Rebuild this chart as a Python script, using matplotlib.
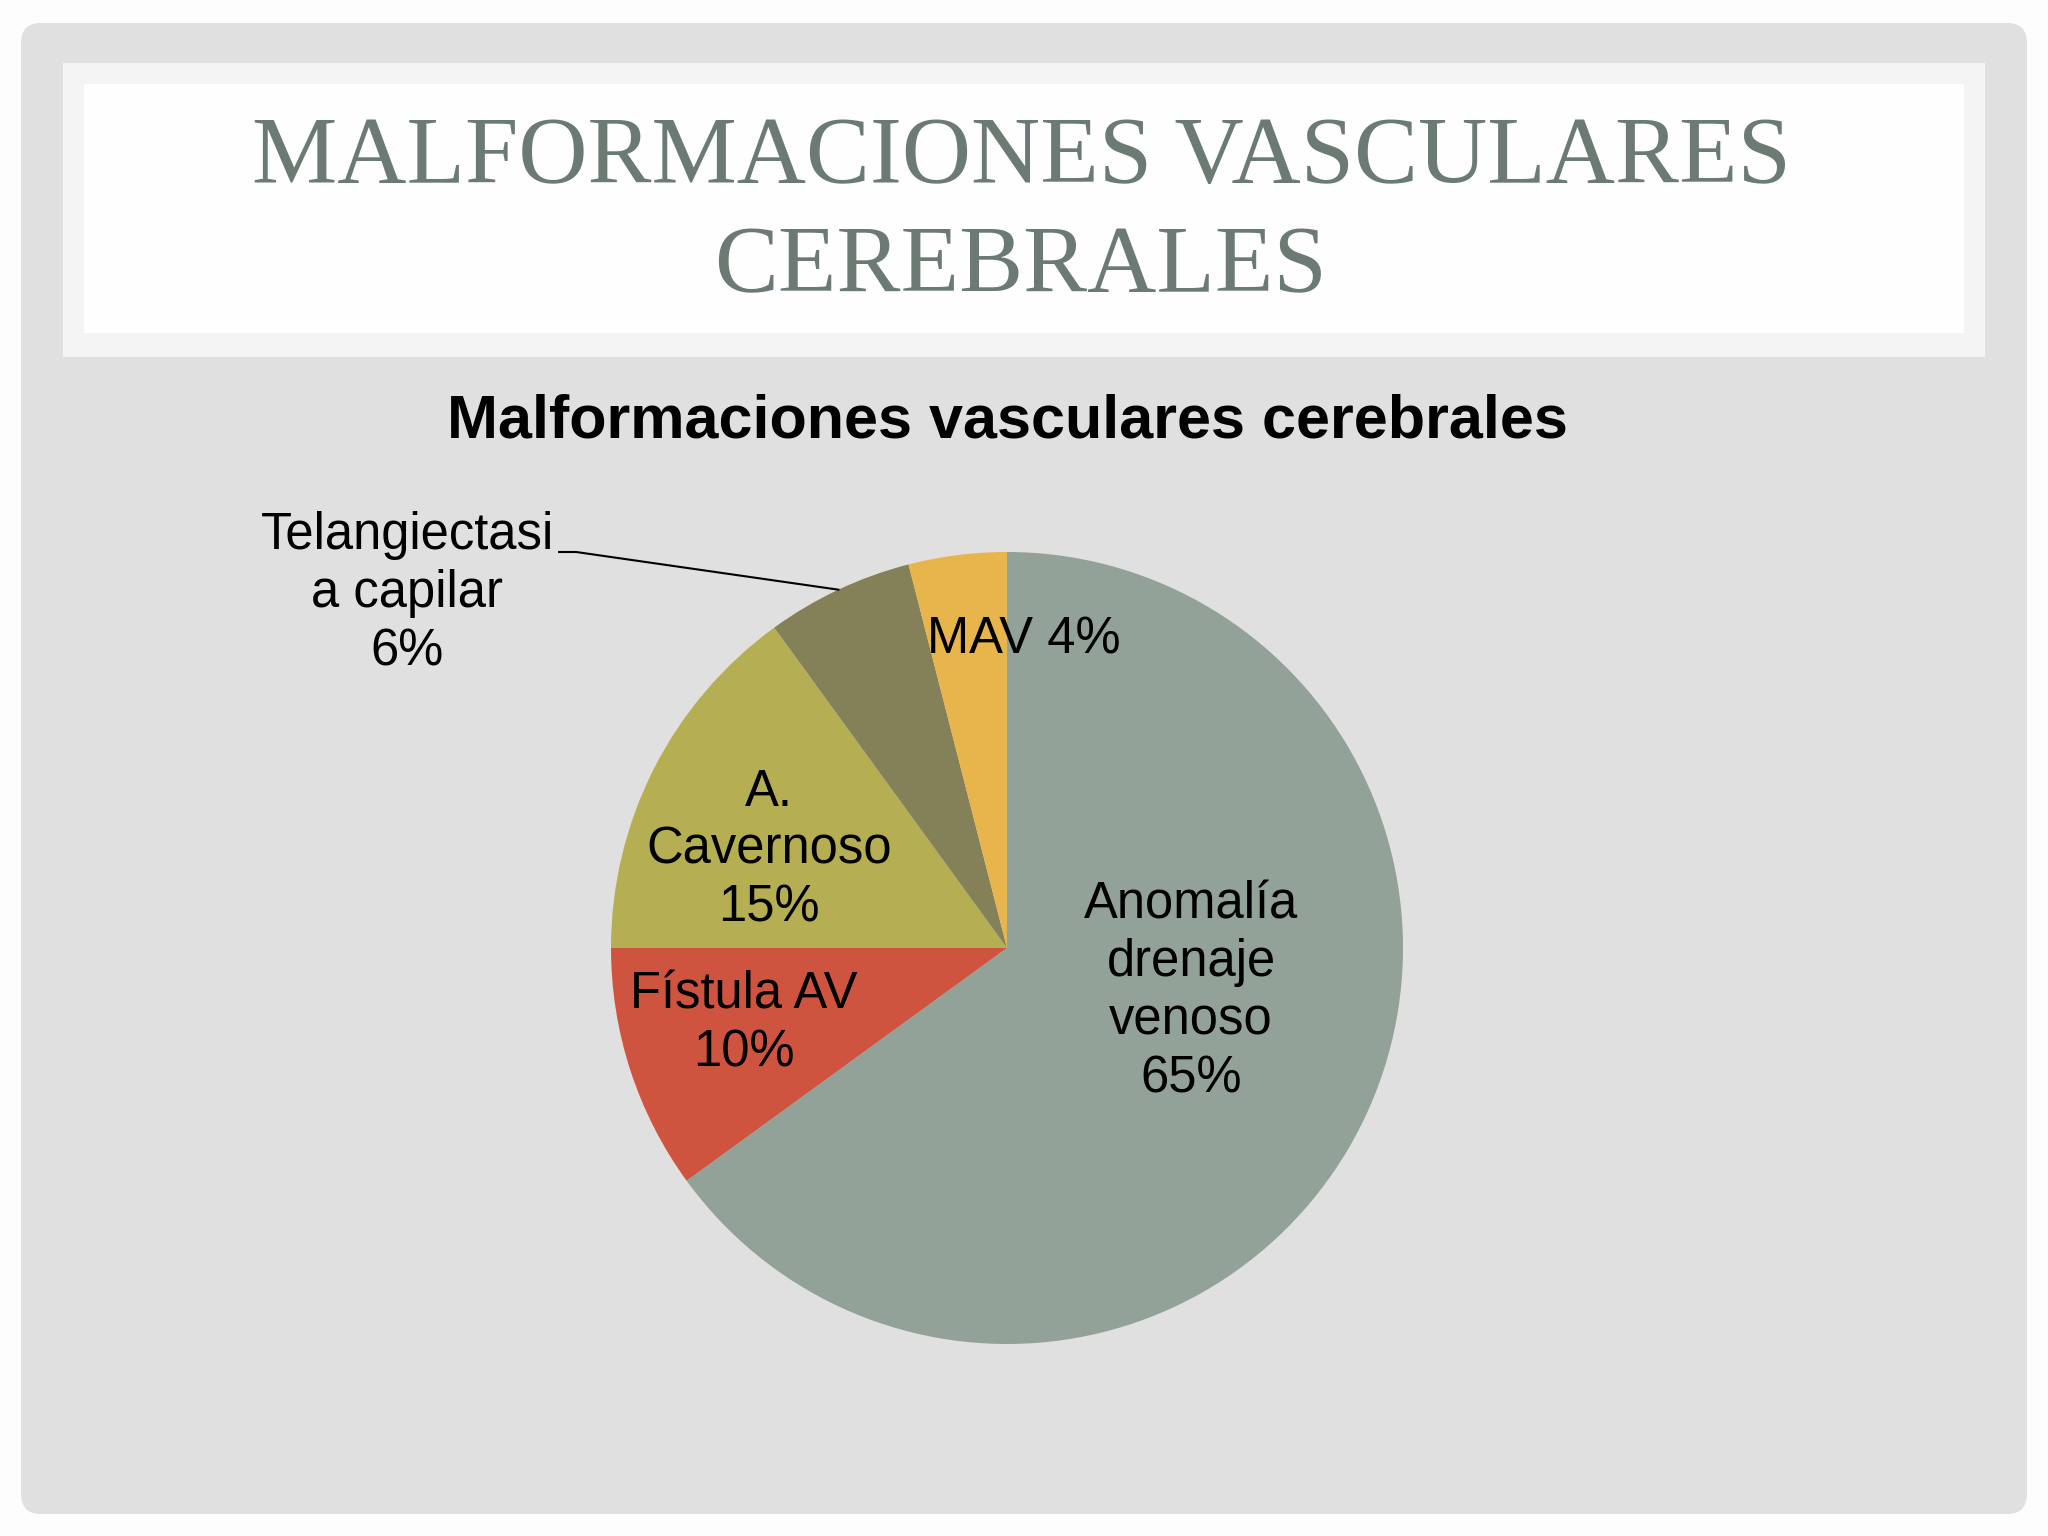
import numpy as np
import matplotlib
matplotlib.use('Agg')
import matplotlib.pyplot as plt
from matplotlib.patches import FancyBboxPatch, Rectangle

# Daten
categories = ['Anomalía drenaje venoso', 'Fístula AV', 'A. Cavernoso',
              'Telangiectasia capilar', 'MAV']
label_texts = ['Anomalía\ndrenaje\nvenoso', 'Fístula AV', 'A.\nCavernoso',
               'Telangiectasi\na capilar', 'MAV']
values = [65, 10, 15, 6, 4]
colors = ['#93A299', '#CF543F', '#B5AE53', '#848058', '#E8B54D']

slide_title = ['MALFORMACIONES VASCULARES', 'CEREBRALES']
chart_title = 'Malformaciones vasculares cerebrales'

W, H = 2048, 1536
fig = plt.figure(figsize=(W / 100, H / 100), dpi=100)
fig.patch.set_facecolor('#FDFDFD')

# Hintergrund in Pixelkoordinaten
bg = fig.add_axes([0, 0, 1, 1])
bg.set_xlim(0, W)
bg.set_ylim(H, 0)
bg.axis('off')
bg.add_patch(FancyBboxPatch((21 + 20, 23 + 20), 2006 - 40, 1491 - 40,
                            boxstyle='round,pad=20', fc='#E1E0E1', ec='none'))
bg.add_patch(Rectangle((63, 63), 1922, 294, fc='#F4F4F4', ec='none'))
bg.add_patch(Rectangle((84, 84), 1880, 249, fc='#FEFEFE', ec='none'))
for line, yb in zip(slide_title, [183, 292]):
    bg.text(1021, yb, line, ha='center', va='baseline',
            family='Liberation Serif', fontsize=69, color='#6B7B73')
bg.text(1007, 422, chart_title, ha='center', va='center',
        family='Liberation Sans', fontsize=44, fontweight='bold', color='black')

# Kreisdiagramm
cx, cy, r = 1007, 948, 396
ax = fig.add_axes([(cx - r) / W, (H - cy - r) / H, 2 * r / W, 2 * r / H])
wedges, _ = ax.pie(values, colors=colors, startangle=90, counterclock=False,
                   radius=1, wedgeprops=dict(linewidth=0))
ax.set_xlim(-1, 1)
ax.set_ylim(-1, 1)
ax.axis('off')

# Beschriftungen (Position in Datenkoordinaten, wie im Original verschoben)
label_pos = [(0.465, -0.111), (-0.664, -0.192), (-0.601, 0.247),
             (-1.515, 0.894), (0.043, 0.778)]
for i, (txt, v) in enumerate(zip(label_texts, values)):
    sep = ' ' if i == 4 else '\n'
    ax.text(*label_pos[i], f'{txt}{sep}{v}%', ha='center', va='center',
            multialignment='center', family='Liberation Sans', fontsize=36.5,
            color='black', linespacing=1.24, clip_on=False)

# Fuehrungslinie fuer Telangiectasia
w = wedges[3]
mid = np.deg2rad((w.theta1 + w.theta2) / 2)
ex, ey = np.cos(mid), np.sin(mid)
ax.plot([-1.131, -1.088, ex], [1.0, 1.0, ey], color='black', lw=1.5,
        clip_on=False)

fig.savefig('out.png', dpi=100, facecolor=fig.get_facecolor())
